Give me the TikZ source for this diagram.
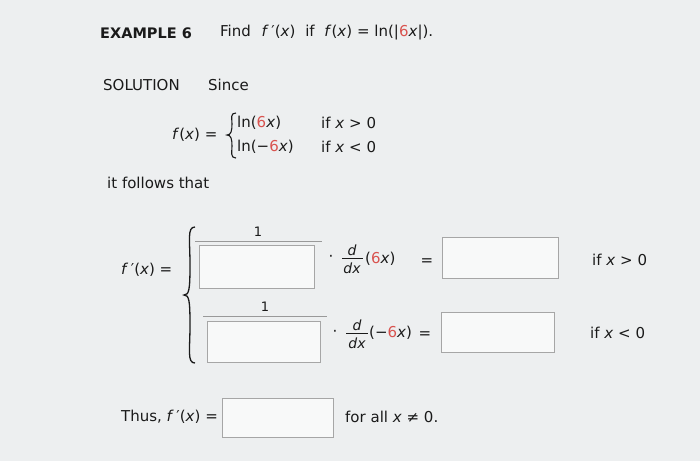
\documentclass[tikz,border=0pt]{standalone}
\usepackage{fontspec}
\setmainfont{DejaVu Sans}
\definecolor{bg}{HTML}{EDEFF0}
\definecolor{ink}{HTML}{1A1A1A}
\definecolor{redt}{HTML}{D9534F}
\begin{document}
\begin{tikzpicture}[x=1pt,y=-1pt,font=\fontsize{15}{18}\selectfont,
  txt/.style={anchor=west,inner sep=0pt,text=ink},
  ansbox/.style={draw=gray!70,fill=white!60!bg,line width=0.8pt,inner sep=0pt},
  fracline/.style={draw=gray!80,line width=0.9pt},
  bracestyle/.style={draw=ink,line width=1.1pt}]
\fill[bg] (0,0) rectangle (700,461);
\useasboundingbox (0,0) rectangle (700,461);
\node[txt,font=\fontsize{14.5}{18}\selectfont\bfseries] (ex) at (100,33) {EXAMPLE 6};
\node[txt] (find) at (220,33) {Find\hspace{6pt} \textit{f}\,′(\textit{x})\hspace{5pt} if\hspace{5pt} \textit{f}(\textit{x}) = ln(|\textcolor{redt}{6}\textit{x}|).};
\node[txt] (sol) at (103,85) {SOLUTION};
\node[txt] (since) at (208,85) {Since};
\node[txt] (fx) at (172,135) {\textit{f}(\textit{x}) =};
\draw[bracestyle] (236,113) .. controls (230,113) and (232,118) .. (232,124)
  .. controls (232,131) and (231,135) .. (227,135)
  .. controls (231,135) and (232,139) .. (232,146)
  .. controls (232,152) and (230,158) .. (236,158);
\node[txt] (l1) at (237,123) {ln(\textcolor{redt}{6}\textit{x})};
\node[txt] (l2) at (237,147) {ln(−\textcolor{redt}{6}\textit{x})};
\node[txt] (c1) at (321,123) {if \textit{x} > 0};
\node[txt] (c2) at (321,147) {if \textit{x} < 0};
\node[txt] (follow) at (107,183) {it follows that};
\node[txt] (fp) at (121,270) {\textit{f}\,′(\textit{x}) =};
\draw[bracestyle,line width=1.3pt] (195,227) .. controls (187,227) and (190,240) .. (190,265)
  .. controls (190,290) and (189,295) .. (184,295)
  .. controls (189,295) and (190,300) .. (190,325)
  .. controls (190,350) and (187,363) .. (195,363);
% first row
\node[ansbox,minimum width=115pt,minimum height=43pt,anchor=north west] (b1) at (199,245) {};
\coordinate (f1a) at (195,241); \coordinate (f1b) at (322,241);
\draw[fracline] (f1a) -- (f1b);
\node[txt,anchor=center,font=\fontsize{13}{13}\selectfont] (one1) at (258,232) {1};
\node[txt,anchor=center] (dot1) at (331,258) {·};
\node[txt,anchor=center,font=\fontsize{14}{14}\selectfont\itshape] (d1) at (352,250) {d};
\node[txt,anchor=center,font=\fontsize{14}{14}\selectfont\itshape] (dx1) at (352,268) {dx};
\draw[ink,line width=0.5pt] (342,258) -- (363,258);
\node[txt] (a1) at (365,259) {(\textcolor{redt}{6}\textit{x})};
\node[txt,anchor=center] (eq1) at (427,262) {=};
\node[ansbox,minimum width=116pt,minimum height=41pt,anchor=north west] (r1) at (442,237) {};
\node[txt] (c3) at (592,260) {if \textit{x} > 0};
% second row
\node[ansbox,minimum width=113pt,minimum height=41pt,anchor=north west] (b2) at (207,321) {};
\coordinate (f2a) at (203,316); \coordinate (f2b) at (327,316);
\draw[fracline] (f2a) -- (f2b);
\node[txt,anchor=center,font=\fontsize{13}{13}\selectfont] (one2) at (265,307) {1};
\node[txt,anchor=center] (dot2) at (335,333) {·};
\node[txt,anchor=center,font=\fontsize{14}{14}\selectfont\itshape] (d2) at (357,325) {d};
\node[txt,anchor=center,font=\fontsize{14}{14}\selectfont\itshape] (dx2) at (357,343) {dx};
\draw[ink,line width=0.5pt] (346,333) -- (368,333);
\node[txt] (a2) at (369,333) {(−\textcolor{redt}{6}\textit{x})};
\node[txt,anchor=center] (eq2) at (425,335) {=};
\node[ansbox,minimum width=113pt,minimum height=40pt,anchor=north west] (r2) at (441,312) {};
\node[txt] (c4) at (590,333) {if \textit{x} < 0};
% thus
\node[txt] (thus) at (121,417) {Thus, \textit{f}\,′(\textit{x}) =};
\node[ansbox,minimum width=111pt,minimum height=39pt,anchor=north west] (r3) at (222,398) {};
\node[txt] (all) at (345,417) {for all \textit{x} ≠ 0.};
\end{tikzpicture}
\end{document}
